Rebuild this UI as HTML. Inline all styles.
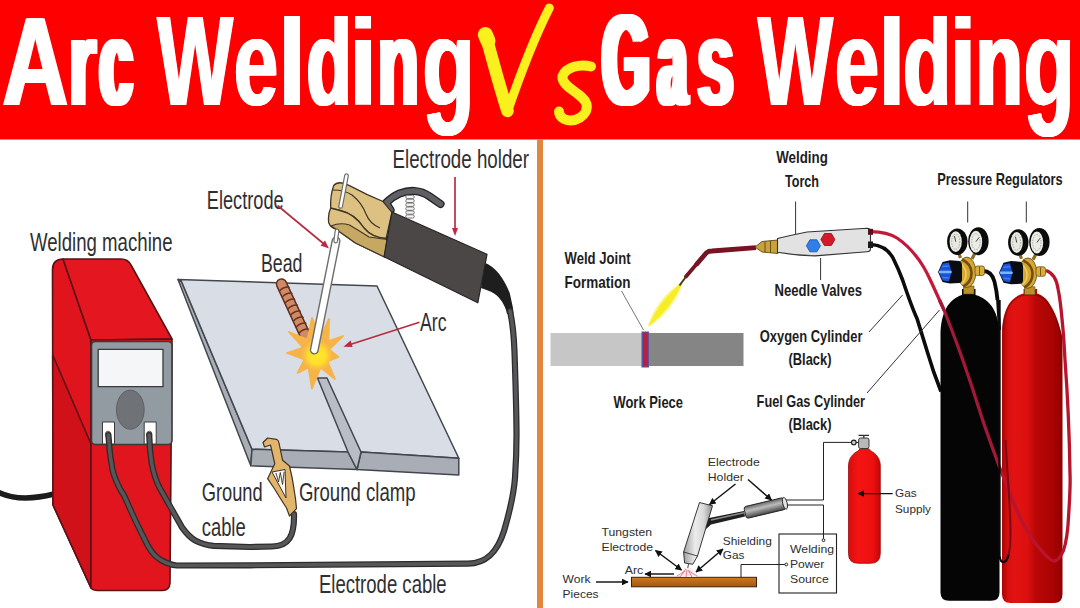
<!DOCTYPE html>
<html><head><meta charset="utf-8"><title>Arc Welding Vs Gas Welding</title>
<style>
html,body{margin:0;padding:0;background:#fff;}
body{width:1080px;height:608px;overflow:hidden;font-family:"Liberation Sans",sans-serif;}
svg{display:block;}
svg text{font-family:"Liberation Sans",sans-serif;}
</style></head><body>
<svg width="1080" height="608" viewBox="0 0 1080 608">
<defs>
  <linearGradient id="gRedCyl" x1="0" x2="1" y1="0" y2="0">
    <stop offset="0" stop-color="#a80404"/><stop offset="0.1" stop-color="#d90f0f"/><stop offset="0.2" stop-color="#e21212"/><stop offset="0.42" stop-color="#dc1010"/>
    <stop offset="0.56" stop-color="#b80707"/><stop offset="0.85" stop-color="#aa0303"/><stop offset="1" stop-color="#8e0000"/>
  </linearGradient>
  <linearGradient id="gTig" x1="0" x2="1" y1="0" y2="0">
    <stop offset="0" stop-color="#a0a0a0"/><stop offset="0.4" stop-color="#ececec"/><stop offset="0.7" stop-color="#d8d8d8"/><stop offset="1" stop-color="#8c8c8c"/>
  </linearGradient>
  <linearGradient id="gHandle" x1="0" x2="0" y1="0" y2="1">
    <stop offset="0" stop-color="#666"/><stop offset="0.4" stop-color="#bdbdbd"/><stop offset="1" stop-color="#444"/>
  </linearGradient>
  <linearGradient id="gSmallCyl" x1="0" x2="1" y1="0" y2="0">
    <stop offset="0" stop-color="#d80c0c"/><stop offset="0.3" stop-color="#f41414"/><stop offset="0.75" stop-color="#ee1010"/><stop offset="1" stop-color="#c00808"/>
  </linearGradient>
  <linearGradient id="gBar" x1="0" x2="0" y1="0" y2="1"><stop offset="0" stop-color="#cc7a22"/><stop offset="1" stop-color="#a4560e"/></linearGradient>
  <radialGradient id="gSpark" cx="0.5" cy="0.5" r="0.5">
    <stop offset="0" stop-color="#ffe726"/><stop offset="0.55" stop-color="#ffde2c"/><stop offset="1" stop-color="#fcc838" stop-opacity="0"/>
  </radialGradient>
  <marker id="ah" viewBox="0 0 10 10" refX="9" refY="5" markerWidth="4.8" markerHeight="4.8" orient="auto-start-reverse">
    <path d="M0,0 L10,5 L0,10 z" fill="#111"/>
  </marker>
</defs>

<!-- background -->
<rect x="0" y="0" width="1080" height="608" fill="#ffffff"/>
<rect x="0" y="0" width="1080" height="139.5" fill="#fe0000"/>
<rect x="537" y="139.5" width="6" height="470" fill="#e0873f"/>

<g font-family="Liberation Sans, sans-serif" font-weight="bold" font-size="122.0" fill="#fff"><clipPath id="clipTop"><rect x="0" y="0" width="1080" height="105"/></clipPath><clipPath id="clipBot"><rect x="0" y="105" width="1080" height="40"/></clipPath><text transform="translate(0.63,105.0) scale(0.7473,1.03)" x="0" y="0">A</text><text transform="translate(1.48,105.0) scale(0.7473,1.03)" x="0" y="0">A</text><text transform="translate(2.34,105.0) scale(0.7473,1.03)" x="0" y="0">A</text><text transform="translate(3.19,105.0) scale(0.7473,1.03)" x="0" y="0">A</text><text transform="translate(4.05,105.0) scale(0.7473,1.03)" x="0" y="0">A</text><text transform="translate(66.34,105.0) scale(0.5786,1.0)" x="0" y="0">r</text><text transform="translate(67.53,105.0) scale(0.5786,1.0)" x="0" y="0">r</text><text transform="translate(68.72,105.0) scale(0.5786,1.0)" x="0" y="0">r</text><text transform="translate(69.91,105.0) scale(0.5786,1.0)" x="0" y="0">r</text><text transform="translate(71.10,105.0) scale(0.5786,1.0)" x="0" y="0">r</text><text transform="translate(96.14,105.0) scale(0.4829,1.0)" x="0" y="0">c</text><text transform="translate(97.86,105.0) scale(0.4829,1.0)" x="0" y="0">c</text><text transform="translate(99.58,105.0) scale(0.4829,1.0)" x="0" y="0">c</text><text transform="translate(101.30,105.0) scale(0.4829,1.0)" x="0" y="0">c</text><text transform="translate(103.01,105.0) scale(0.4829,1.0)" x="0" y="0">c</text><text transform="translate(156.34,105.0) scale(0.6592,1.055)" x="0" y="0">W</text><text transform="translate(156.81,105.0) scale(0.6592,1.055)" x="0" y="0">W</text><text transform="translate(157.29,105.0) scale(0.6592,1.055)" x="0" y="0">W</text><text transform="translate(157.77,105.0) scale(0.6592,1.055)" x="0" y="0">W</text><text transform="translate(158.24,105.0) scale(0.6592,1.055)" x="0" y="0">W</text><text transform="translate(232.80,105.0) scale(0.6553,1.0)" x="0" y="0">e</text><text transform="translate(233.29,105.0) scale(0.6553,1.0)" x="0" y="0">e</text><text transform="translate(233.79,105.0) scale(0.6553,1.0)" x="0" y="0">e</text><text transform="translate(234.28,105.0) scale(0.6553,1.0)" x="0" y="0">e</text><text transform="translate(234.77,105.0) scale(0.6553,1.0)" x="0" y="0">e</text><text transform="translate(275.88,105.0) scale(0.9503,1.0)" x="0" y="0">l</text><text transform="translate(304.94,105.0) scale(0.5967,1.0)" x="0" y="0">d</text><text transform="translate(305.81,105.0) scale(0.5967,1.0)" x="0" y="0">d</text><text transform="translate(306.67,105.0) scale(0.5967,1.0)" x="0" y="0">d</text><text transform="translate(307.53,105.0) scale(0.5967,1.0)" x="0" y="0">d</text><text transform="translate(308.40,105.0) scale(0.5967,1.0)" x="0" y="0">d</text><text transform="translate(346.88,105.0) scale(0.9503,1.0)" x="0" y="0">i</text><text transform="translate(375.59,105.0) scale(0.5480,1.0)" x="0" y="0">n</text><text transform="translate(376.78,105.0) scale(0.5480,1.0)" x="0" y="0">n</text><text transform="translate(377.97,105.0) scale(0.5480,1.0)" x="0" y="0">n</text><text transform="translate(379.17,105.0) scale(0.5480,1.0)" x="0" y="0">n</text><text transform="translate(380.36,105.0) scale(0.5480,1.0)" x="0" y="0">n</text><g clip-path="url(#clipTop)"><text transform="translate(421.37,105.0) scale(0.7093,1.0)" x="0" y="0">g</text><text transform="translate(421.75,105.0) scale(0.7093,1.0)" x="0" y="0">g</text><text transform="translate(422.14,105.0) scale(0.7093,1.0)" x="0" y="0">g</text><text transform="translate(422.53,105.0) scale(0.7093,1.0)" x="0" y="0">g</text><text transform="translate(422.92,105.0) scale(0.7093,1.0)" x="0" y="0">g</text></g><g clip-path="url(#clipBot)"><text transform="translate(421.37,105.0) scale(0.7093,1.22)" x="0" y="0">g</text><text transform="translate(421.75,105.0) scale(0.7093,1.22)" x="0" y="0">g</text><text transform="translate(422.14,105.0) scale(0.7093,1.22)" x="0" y="0">g</text><text transform="translate(422.53,105.0) scale(0.7093,1.22)" x="0" y="0">g</text><text transform="translate(422.92,105.0) scale(0.7093,1.22)" x="0" y="0">g</text></g><text transform="translate(598.45,105.0) scale(0.4970,1.06)" x="0" y="0">G</text><text transform="translate(600.36,105.0) scale(0.4970,1.06)" x="0" y="0">G</text><text transform="translate(602.27,105.0) scale(0.4970,1.06)" x="0" y="0">G</text><text transform="translate(604.18,105.0) scale(0.4970,1.06)" x="0" y="0">G</text><text transform="translate(606.09,105.0) scale(0.4970,1.06)" x="0" y="0">G</text><text transform="translate(654.46,105.0) scale(0.4202,1.0)" x="0" y="0">a</text><text transform="translate(656.27,105.0) scale(0.4202,1.0)" x="0" y="0">a</text><text transform="translate(658.07,105.0) scale(0.4202,1.0)" x="0" y="0">a</text><text transform="translate(659.88,105.0) scale(0.4202,1.0)" x="0" y="0">a</text><text transform="translate(661.69,105.0) scale(0.4202,1.0)" x="0" y="0">a</text><text transform="translate(694.61,105.0) scale(0.5441,1.0)" x="0" y="0">s</text><text transform="translate(695.90,105.0) scale(0.5441,1.0)" x="0" y="0">s</text><text transform="translate(697.18,105.0) scale(0.5441,1.0)" x="0" y="0">s</text><text transform="translate(698.47,105.0) scale(0.5441,1.0)" x="0" y="0">s</text><text transform="translate(699.75,105.0) scale(0.5441,1.0)" x="0" y="0">s</text><text transform="translate(756.84,105.0) scale(0.6541,1.055)" x="0" y="0">W</text><text transform="translate(757.34,105.0) scale(0.6541,1.055)" x="0" y="0">W</text><text transform="translate(757.83,105.0) scale(0.6541,1.055)" x="0" y="0">W</text><text transform="translate(758.33,105.0) scale(0.6541,1.055)" x="0" y="0">W</text><text transform="translate(758.83,105.0) scale(0.6541,1.055)" x="0" y="0">W</text><text transform="translate(833.80,105.0) scale(0.6553,1.0)" x="0" y="0">e</text><text transform="translate(834.29,105.0) scale(0.6553,1.0)" x="0" y="0">e</text><text transform="translate(834.79,105.0) scale(0.6553,1.0)" x="0" y="0">e</text><text transform="translate(835.28,105.0) scale(0.6553,1.0)" x="0" y="0">e</text><text transform="translate(835.77,105.0) scale(0.6553,1.0)" x="0" y="0">e</text><text transform="translate(876.14,105.0) scale(0.9206,1.0)" x="0" y="0">l</text><text transform="translate(901.71,105.0) scale(0.6418,1.0)" x="0" y="0">d</text><text transform="translate(902.39,105.0) scale(0.6418,1.0)" x="0" y="0">d</text><text transform="translate(903.06,105.0) scale(0.6418,1.0)" x="0" y="0">d</text><text transform="translate(903.73,105.0) scale(0.6418,1.0)" x="0" y="0">d</text><text transform="translate(904.41,105.0) scale(0.6418,1.0)" x="0" y="0">d</text><text transform="translate(947.14,105.0) scale(0.9206,1.0)" x="0" y="0">i</text><text transform="translate(973.92,105.0) scale(0.6314,1.0)" x="0" y="0">n</text><text transform="translate(974.76,105.0) scale(0.6314,1.0)" x="0" y="0">n</text><text transform="translate(975.60,105.0) scale(0.6314,1.0)" x="0" y="0">n</text><text transform="translate(976.44,105.0) scale(0.6314,1.0)" x="0" y="0">n</text><text transform="translate(977.28,105.0) scale(0.6314,1.0)" x="0" y="0">n</text><g clip-path="url(#clipTop)"><text transform="translate(1022.48,105.0) scale(0.6868,1.0)" x="0" y="0">g</text><text transform="translate(1022.96,105.0) scale(0.6868,1.0)" x="0" y="0">g</text><text transform="translate(1023.45,105.0) scale(0.6868,1.0)" x="0" y="0">g</text><text transform="translate(1023.93,105.0) scale(0.6868,1.0)" x="0" y="0">g</text><text transform="translate(1024.42,105.0) scale(0.6868,1.0)" x="0" y="0">g</text></g><g clip-path="url(#clipBot)"><text transform="translate(1022.48,105.0) scale(0.6868,1.22)" x="0" y="0">g</text><text transform="translate(1022.96,105.0) scale(0.6868,1.22)" x="0" y="0">g</text><text transform="translate(1023.45,105.0) scale(0.6868,1.22)" x="0" y="0">g</text><text transform="translate(1023.93,105.0) scale(0.6868,1.22)" x="0" y="0">g</text><text transform="translate(1024.42,105.0) scale(0.6868,1.22)" x="0" y="0">g</text></g></g>

<!-- Vs -->
<g fill="none" stroke="#f9f11d" stroke-linecap="round" stroke-linejoin="round">
  <path d="M486,36 C492,58 500,88 507.5,111" stroke-width="12.5"/>
  <path d="M485.3,34.5 L488,41" stroke-width="15"/>
  <path d="M507.5,111.5 C519,78 533,40 549.3,8" stroke-width="9"/>
  <path d="M591,66.5 C580,63.5 566,67 562.5,76 C560.5,87 583,93 586.5,104 C589,116 574,123.5 564,119 C560.5,117 559,114 559,111.5" stroke-width="10"/>
</g>

<!-- ================= LEFT DIAGRAM ================= -->
<!-- power cord -->
<path d="M-2,492 C14,500 34,499 54,494" fill="none" stroke="#1c1c1c" stroke-width="5.5" stroke-linecap="round"/>

<!-- machine -->
<g stroke="#5a1216" stroke-width="1.6" stroke-linejoin="round">
  <!-- side face -->
  <path d="M52.5,270 Q52.5,259 63,259 L91,340 L91,588 L53,505 Z" fill="#df141d"/>
  <path d="M52.7,355 L91,444 L91,588 L53,505 Z" fill="#d01119"/>
  <!-- top face -->
  <path d="M63,259 L121,259 Q128,259 131,265 L172,339 L91,340 Z" fill="#e41720"/>
  <!-- front -->
  <path d="M91,340 L172,339 L170,583 Q169.5,590.5 162.5,590.5 L97,590.5 Q92,590 91,588 Z" fill="#e1151e"/>
  <!-- panel -->
  <rect x="91.5" y="341.5" width="80.5" height="103" fill="#929aa2" stroke="#3a3a3a" rx="4"/>
  <rect x="98.2" y="349.3" width="64.8" height="37.4" fill="#f4f6f7" stroke="#3a3a3a" stroke-width="1.3"/>
  <ellipse cx="130.3" cy="409.7" rx="13.9" ry="19.6" fill="#6f7377" stroke="#55595d" stroke-width="0.8"/>
  <rect x="102.5" y="422" width="12" height="22" fill="#fff" stroke="#3a3a3a" stroke-width="1"/>
  <rect x="144.2" y="422" width="12" height="22" fill="#fff" stroke="#3a3a3a" stroke-width="1"/>
  <ellipse cx="108" cy="434.5" rx="2.6" ry="3.4" fill="#d8b070" stroke="#444" stroke-width="0.8"/>
  <ellipse cx="149.3" cy="434.5" rx="2.6" ry="3.4" fill="#d8b070" stroke="#444" stroke-width="0.8"/>
</g>

<!-- plate -->
<g stroke="#42464d" stroke-width="1.5" stroke-linejoin="round">
  <path d="M178,279.5 L181.5,281.5 L252,449.3 L250.8,465.8 Z" fill="#a9adb5"/>
  <path d="M178,279.5 L377,286 L458.8,458.2 L361,452 L348,452 L252,449.3 L181.5,281.5 Z" fill="#d9dde6"/>
  <path d="M252,449.3 L348,452 L357,469.5 L250.8,465.8 Z" fill="#a9adb5"/>
  <path d="M361,452 L458.8,458.2 L458.8,475 L357,469.5 Z" fill="#a9adb5"/>
  <path d="M317.5,378 L327,378 L361,452 L357,469.5 L348,452 Z" fill="#b9bdc6"/>
</g>

<!-- bead -->
<g>
  <path d="M281.5,284 L305.5,336" stroke="#5e2e1c" stroke-width="11.5" stroke-linecap="round" fill="none"/>
  <path d="M281.5,284 L305.5,336" stroke="#d18a66" stroke-width="8.6" stroke-linecap="round" fill="none"/>
  <g stroke="#6a3220" stroke-width="1.5" fill="none" stroke-linecap="round">
    <path d="M279.5,291 q4.5,-4.5 9.5,-3.8"/><path d="M282.3,297 q4.5,-4.5 9.5,-3.8"/><path d="M285.1,303 q4.5,-4.5 9.5,-3.8"/>
    <path d="M287.9,309 q4.5,-4.5 9.5,-3.8"/><path d="M290.7,315 q4.5,-4.5 9.5,-3.8"/><path d="M293.5,321 q4.5,-4.5 9.5,-3.8"/>
    <path d="M296.3,327 q4.5,-4.5 9.5,-3.8"/><path d="M299.1,333 q4.5,-4.5 9.5,-3.8"/>
  </g>
</g>

<!-- spark -->
<path d="M312,318 L320.5,337 L329,319 L328.5,341 L343,336 L329,349.5 L338.5,357 L327.5,361.5 L335,379 L320.5,367.5 L312,388.5 L308.5,367.5 L297.6,373 L304.5,359.5 L287,353 L303,347.5 L289,332 L307.5,339.5 Z" fill="#f6b448" stroke="#f6b448" stroke-width="1.8" stroke-linejoin="round"/>
<circle cx="317" cy="355.5" r="16" fill="url(#gSpark)"/>

<!-- electrode rod -->
<path d="M336,241 L314.3,350" stroke="#6d6d6d" stroke-width="9" stroke-linecap="round" fill="none"/>
<path d="M336,241 L314.3,350" stroke="#ffffff" stroke-width="6.2" stroke-linecap="round" fill="none"/>

<!-- electrode holder -->
<g stroke-linejoin="round">
  <!-- lever -->
  <path d="M390.5,210 L386,203 C390,199 395,195.5 400,193.3 C405,191.4 410,190.8 414.5,191 C420,191.4 425.5,193.5 429.5,196.3 L440.5,204" fill="none" stroke="#242424" stroke-width="8.2" stroke-linecap="round"/>
  <path d="M390.5,210 L386,203 C390,199 395,195.5 400,193.3 C405,191.4 410,190.8 414.5,191 C420,191.4 425.5,193.5 429.5,196.3 L440.5,204" fill="none" stroke="#606064" stroke-width="5.6" stroke-linecap="round"/>
  <!-- upper jaw -->
  <path d="M333.7,185.5 Q337,181.5 344,183.3 L349.5,185.7 L367.3,194.6 L383,201.5 L392,212.3 L386,239 Q372,238 364,228 Q355,214 340,210.5 L330.7,208.5 Q330,196 333.7,185.5 Z" fill="#dcc183" stroke="#3d3424" stroke-width="1.3"/>
  <!-- lower jaw -->
  <path d="M330.7,208 Q327.5,215 328.8,223 Q331,228 335.7,229 L355.4,243 L384.5,257 L387.5,238.5 Q372,238 364,228 Q355,214 340,210.5 Z" fill="#dcc183" stroke="#3d3424" stroke-width="1.3"/>
  <path d="M331,226 Q340,222 349.5,225 Q358,230 369,237 L387,239.5 L384.5,257 L355.4,243 L335.7,229 Z" fill="#c7a862" stroke="#3d3424" stroke-width="1.1"/>
  <!-- inner lines -->
  <path d="M332.7,190 Q345,190 352,195 Q362,203 366,214 Q370,224 380,228" fill="none" stroke="#3d3424" stroke-width="1.2"/>
  <!-- cable from handle -->
  <path d="M484,262.5 C495,266 504.5,279 509.8,293.3 L513,308 L513.5,314 L507,314 L506,310 C503,302 499,296.5 494,293.5 C490,291 486,289.5 481,288 Z" fill="#1e1e1e"/>
  <!-- dark handle -->
  <path d="M392,212 L487,254.3 L477.8,302.8 L384,256.8 Z" fill="#4a4746" stroke="#262626" stroke-width="1.2"/>
</g>

<!-- spring -->
<g fill="#f4f4f4" stroke="#5a5a5a" stroke-width="0.8">
  <rect x="405.8" y="195.3" width="8.4" height="3.3" rx="1.5"/><rect x="405.8" y="199.2" width="8.4" height="3.3" rx="1.5"/>
  <rect x="405.8" y="203.1" width="8.4" height="3.3" rx="1.5"/><rect x="405.8" y="207" width="8.4" height="3.3" rx="1.5"/>
  <rect x="405.8" y="210.9" width="8.4" height="3.3" rx="1.5"/><rect x="405.8" y="214.8" width="8.4" height="3.3" rx="1.5"/>
</g>
<path d="M346.5,175.8 L340.6,206.4" stroke="#6d6d6d" stroke-width="4.8" stroke-linecap="round" fill="none"/>
<path d="M346.5,175.8 L340.6,206.4" stroke="#ffffff" stroke-width="2.4" stroke-linecap="round" fill="none"/>
<path d="M337,231 L335.7,241" stroke="#6d6d6d" stroke-width="4.8" stroke-linecap="round" fill="none"/>
<path d="M337,231 L335.7,241" stroke="#ffffff" stroke-width="2.4" stroke-linecap="round" fill="none"/>
<!-- cables -->
<g fill="none" stroke-linecap="round">
  <!-- electrode cable -->
  <path d="M108.4,435 C109,448 110.5,459 112.4,469.5 C115,480 119,488 124.2,495.8 L136,522 L147.9,545.8 C152,553 156,557.5 161,560 C166,563 171,565 176.8,565.5 L250,565.3 L468,563.6 C488,563.4 498,550 504,531 C509,514 513.5,497 515,478 C516.2,460 516.6,448 516.5,432 C516.3,405 515.3,375 514.5,352 C514,338 512.5,322 510,311" stroke="#2c2c2c" stroke-width="6.2"/>
  <path d="M108.4,435 C109,448 110.5,459 112.4,469.5 C115,480 119,488 124.2,495.8 L136,522 L147.9,545.8 C152,553 156,557.5 161,560 C166,563 171,565 176.8,565.5 L250,565.3 L468,563.6 C488,563.4 498,550 504,531 C509,514 513.5,497 515,478 C516.2,460 516.6,448 516.5,432 C516.3,405 515.3,375 514.5,352 C514,338 512.5,322 510,311" stroke="#57575a" stroke-width="3.6"/>
  <!-- ground cable -->
  <path d="M149.2,435 C149.5,446 150.5,456 151.8,464 C153.5,473 156,481 159.7,488 L171.6,509 L182,527.4 C186,533 190,537.5 195.3,540.5 C201,543.5 207,545.3 213.7,545.8 L250,547 L272,546.5 C289,546 294.5,536 294,514" stroke="#2c2c2c" stroke-width="6.2"/>
  <path d="M149.2,435 C149.5,446 150.5,456 151.8,464 C153.5,473 156,481 159.7,488 L171.6,509 L182,527.4 C186,533 190,537.5 195.3,540.5 C201,543.5 207,545.3 213.7,545.8 L250,547 L272,546.5 C289,546 294.5,536 294,514" stroke="#57575a" stroke-width="3.6"/>
</g>

<!-- ground clamp -->
<g stroke="#3d3424" stroke-width="1.2" stroke-linejoin="round">
  <path d="M263,442.5 L267.6,438 L276.5,439.3 Q278.5,440 279,443 L282.6,460.3 L289.5,466 Q292.5,478 294,489 Q296,500 296.5,508.7 L289.5,516 L286.5,508 Q280,498 274.6,489 L267.6,478.7 L272,469.5 L274.8,463.8 L270.5,445 L264.5,447 Z" fill="#e2b46c"/>
  <path d="M272,472 L285,469.5 L286,498 Z" fill="#fbf7ee" stroke-width="1"/>
  <path d="M276,473 l2.5,9 l1.8,-9.5 l2.2,12 l1.6,-12.5" fill="none" stroke="#333" stroke-width="0.9"/>
</g>

<!-- labels left -->
<g fill="#2f2f31" font-size="26">
  <text x="30" y="251" textLength="142.5" lengthAdjust="spacingAndGlyphs">Welding machine</text>
  <text x="206.8" y="208.6" textLength="76.8" lengthAdjust="spacingAndGlyphs">Electrode</text>
  <text x="261" y="271.5" textLength="41.5" lengthAdjust="spacingAndGlyphs">Bead</text>
  <text x="392.5" y="168.2" textLength="136.5" lengthAdjust="spacingAndGlyphs">Electrode holder</text>
  <text x="420" y="330.5" textLength="26.5" lengthAdjust="spacingAndGlyphs">Arc</text>
  <text x="201.7" y="501.4" textLength="61" lengthAdjust="spacingAndGlyphs">Ground</text>
  <text x="201.7" y="536.3" textLength="44" lengthAdjust="spacingAndGlyphs">cable</text>
  <text x="298.9" y="501.4" textLength="116.7" lengthAdjust="spacingAndGlyphs">Ground clamp</text>
  <text x="318.9" y="593.2" textLength="127.8" lengthAdjust="spacingAndGlyphs">Electrode cable</text>
</g>
<!-- red arrows -->
<g stroke="#b92c40" stroke-width="1.7" fill="#b92c40">
  <path d="M455,177 L455,230" fill="none"/><path d="M455,236 L452,228 L458,228 Z" stroke="none"/>
  <path d="M277.5,205.5 L324,244" fill="none"/><path d="M329,248.5 L320.5,245.5 L325,240.5 Z" stroke="none"/>
  <path d="M419.5,322.3 L351,344.3" fill="none"/><path d="M343.5,346.8 L350.6,340.6 L352.6,347 Z" stroke="none"/>
</g>

<!-- ================= RIGHT TOP DIAGRAM ================= -->
<!-- work piece -->
<rect x="550.5" y="333" width="92" height="33" fill="#c6c6c6"/>
<rect x="648" y="333" width="95.5" height="33" fill="#858585"/>
<rect x="641.5" y="331.5" width="7.5" height="36" fill="#5a55a0"/>
<rect x="643" y="332.5" width="4.8" height="34" fill="#b8203e"/>
<!-- leader -->
<path d="M621.5,291 L643.5,330" stroke="#777" stroke-width="1" fill="none"/>
<!-- flame -->
<path d="M682,282.5 Q673,311 648.5,326 Q657,299 682,282.5 Z" fill="#fbf68c" stroke="#fbf68c" stroke-width="1.4" stroke-linejoin="round"/>
<path d="M682,282.5 Q671,308.5 649,325.5 Q659.5,301.5 682,282.5 Z" fill="#f6ee22" stroke="#f6ee22" stroke-width="1" stroke-linejoin="round"/>
<!-- torch tube -->
<path d="M686,276.5 L706,253" fill="none" stroke="#771424" stroke-width="3.8" stroke-linecap="round"/>
<path d="M696,265 L706.5,252.8 Q708.5,251 712,251 L756,247.6" fill="none" stroke="#771424" stroke-width="4.8" stroke-linejoin="round"/>
<path d="M679.5,285.5 L686.5,276" stroke="#4a3a1c" stroke-width="2" fill="none"/>
<!-- brass fitting -->
<path d="M755,247 L762,241.5 L778,240 L778,253.5 L762,252 Z" fill="#c9a23c" stroke="#5e4a14" stroke-width="0.9"/>
<path d="M765,241 L765,252.5 M770.5,240.5 L770.5,253" stroke="#5e4a14" stroke-width="0.9"/>
<!-- hoses from torch -->
<path d="M871,231.6 C880,231.8 890,233.6 897,238 C908,245.5 917,256 923.6,267 C926.5,272 928.5,276 930.3,280 C935,290 939.5,300 944,310" fill="none" stroke="#c4183a" stroke-width="3.2"/>
<path d="M871,244.5 C880,245 888,249 893,258 C897,266 900,273 902.6,280 C908,296 913,310 917,318.5 C923,338 928,354 933.7,372 L941,391.5" fill="none" stroke="#0c0c0c" stroke-width="3.6"/>
<!-- torch body -->
<path d="M777.5,238.5 Q792,235 807,232 L867,228.2 Q870.5,228.2 870.5,231.5 L870.5,248.5 Q870.5,251.8 867,251.8 L815,255.9 Q796,255.5 777.5,252.3 Z" fill="#e2e2e2" stroke="#333" stroke-width="1.1"/>
<rect x="868" y="228.8" width="5" height="6" fill="#5a1018"/><rect x="868" y="241.5" width="5" height="6.5" fill="#1a1a1a"/>
<polygon points="820.4,245.8 816.9,251.8 809.9,251.8 806.4,245.8 809.9,239.8 816.9,239.8" fill="#2f7fe8" stroke="#1b4fa8" stroke-width="0.8"/>
<polygon points="834.9,239.5 831.4,245.5 824.4,245.5 820.9,239.5 824.4,233.5 831.4,233.5" fill="#d41a2a" stroke="#8a0f18" stroke-width="0.8"/>
<!-- leader lines -->
<g stroke="#333" stroke-width="1" fill="none">
  <path d="M795.6,201.5 L795.6,234"/><path d="M820.6,258 L820.6,280"/>
  <path d="M967.7,201.5 L967.7,222.5"/><path d="M1026.3,201.5 L1026.3,222.5"/>
  <path d="M902.6,295 L869,332"/><path d="M939.5,310 L867,393"/>
</g>

<!-- cylinders -->
<path d="M940.5,336 C940.5,312 949,299 962,295 L962,289 L975.5,289 L975.5,295 C990,299 999.5,312 999.5,336 L999.5,592.5 Q999.5,600.8 991,600.8 L949,600.8 Q940.5,600.8 940.5,592.5 Z" fill="#050505"/>
<path d="M1002,336 C1002,322 1004,312 1008.7,304.4 C1013,298 1018,295 1023.5,293.5 L1023.5,289 L1037,289 L1037,293.5 C1043,295.5 1047,299 1050,304.4 C1055,312 1059,322 1062.5,338 L1062.5,594 Q1062.5,603 1054,603 L1010.5,603 Q1002,603 1002,594 Z" fill="url(#gRedCyl)"/>
<path d="M1003,330 C1003.5,320 1005.5,312 1009.5,305 C1013.5,299 1018,296.5 1023.5,295 L1037,295 C1042.5,296.5 1046,300 1049,305 C1054,313 1058,323 1061.5,337" fill="none" stroke="#7a0505" stroke-width="1.5" opacity="0.6"/>
<!-- hoses on top of cylinders -->
<path d="M939.5,300 C941,303.5 942.5,306.7 944,310 C950,325 956,341 961.4,356 C968.5,376 975.5,397 982,418 C988,436 994,452 999,466" fill="none" stroke="#a21838" stroke-width="3.3"/>
<path d="M999,466 C1003,476 1006,484 1009.5,492.7 C1014,504 1019,516 1025,527 C1031,538 1037,546 1043.7,553 C1048,558 1051,561 1054.5,561 C1058,560.5 1061,556 1063.4,550.6 C1066.5,542 1068,530 1068.7,514 C1070,494 1070.5,484 1070,474 C1069.5,440 1068,400 1065,360 C1064,340 1063,328 1062,319 C1061,308 1060,298 1058.2,289.6 C1057,281 1054.5,273.3 1046,270.5" fill="none" stroke="#b8142e" stroke-width="3.3"/>
<path d="M1005.5,440 C1007,470 1010,500 1010.5,530 C1010.5,546 1009.5,554 1007.5,558" fill="none" stroke="#7c0a16" stroke-width="2"/>
<path d="M999.5,300 L999.5,556 C1000,561 1002,562.5 1004,562 C1006,561.5 1007.5,559 1008.5,555" fill="none" stroke="#0a0a0a" stroke-width="2.4"/>
<path d="M997.5,298 L999.5,330" fill="none" stroke="#0a0a0a" stroke-width="3"/>

<!-- regulators -->
<path d="M983,271 C990,271 993,276 994.5,281.8 C996,288 997,294 997.5,300" fill="none" stroke="#0a0a0a" stroke-width="3.8"/>
<g id="reg">
  <rect x="963.5" y="286" width="10.5" height="8" fill="#b8902c" stroke="#5e4510" stroke-width="0.6"/>
  <path d="M958,251 L960.5,258 M975.5,252 L972,259" stroke="#8a6a20" stroke-width="3.2" fill="none"/>
  <ellipse cx="966.8" cy="272.3" rx="9" ry="15.2" fill="#d5a630" stroke="#5e4510" stroke-width="0.8"/>
  <path d="M962,259.5 Q971.5,264 971.5,273 Q971.5,282 963.5,286.5" fill="none" stroke="#6e4c12" stroke-width="2.6"/>
  <path d="M960.5,263 Q966,268 966,274 Q966,280 961.5,284" fill="none" stroke="#f0cc60" stroke-width="1.6"/>
  <rect x="975" y="266" width="9.5" height="9.5" rx="2.2" fill="#d9ad3a" stroke="#5e4510" stroke-width="0.7"/>
  <path d="M979.5,266.5 L979.5,275" stroke="#7a5a16" stroke-width="1"/>
  <path d="M938,272 L942.5,262 L950,260.3 L959.5,261 Q962,262 962,265 L962,279 Q962,282.5 959.5,283 L950,283.5 L942.5,282 Z" fill="#0a0c14"/>
  <path d="M938.6,272 L942.8,263.5 L949,262.5 L951.5,272 L949,281.5 L942.8,280.5 Z" fill="#1c52d6"/>
  <path d="M940,272 L950.5,272" stroke="#7ab6ff" stroke-width="2.6" stroke-linecap="round"/>
  <path d="M943,266.5 L948.5,266 M943,277.5 L948.5,278" stroke="#3f7ff0" stroke-width="1.6" stroke-linecap="round"/>
  <ellipse cx="957.3" cy="241.7" rx="10.2" ry="13.3" fill="#0b0b0b"/>
  <ellipse cx="955.7" cy="241.7" rx="6.1" ry="10.4" fill="#e9e9e2"/>
  <ellipse cx="955.7" cy="241.7" rx="4" ry="7.6" fill="none" stroke="#8c9690" stroke-width="0.8" stroke-dasharray="1.4 1.2"/>
  <path d="M955.7,241.7 L954.5,236" stroke="#333" stroke-width="0.9"/>
  <ellipse cx="978.4" cy="241.2" rx="10.2" ry="14" fill="#0b0b0b"/>
  <ellipse cx="975.9" cy="241.7" rx="6.3" ry="11" fill="#ecece6"/>
  <ellipse cx="975.9" cy="241.7" rx="4.2" ry="8" fill="none" stroke="#8c9690" stroke-width="0.8" stroke-dasharray="1.4 1.2"/>
  <path d="M975.9,241.7 L979,237.5" stroke="#333" stroke-width="0.9"/>
</g>
<use href="#reg" x="61" y="0.8"/>

<!-- labels right top (Calibri-like bold) -->
<g fill="#1d1d1d" font-weight="bold" font-size="16.6">
  <text x="776.2" y="163" textLength="51.6" lengthAdjust="spacingAndGlyphs">Welding</text>
  <text x="785" y="186.8" textLength="34" lengthAdjust="spacingAndGlyphs">Torch</text>
  <text x="937.2" y="185.4" textLength="125.5" lengthAdjust="spacingAndGlyphs">Pressure Regulators</text>
  <text x="564.5" y="263.8" textLength="66" lengthAdjust="spacingAndGlyphs">Weld Joint</text>
  <text x="564.5" y="287.8" textLength="66" lengthAdjust="spacingAndGlyphs">Formation</text>
  <text x="774.5" y="296" textLength="87.5" lengthAdjust="spacingAndGlyphs">Needle Valves</text>
  <text x="759.7" y="342" textLength="102.8" lengthAdjust="spacingAndGlyphs">Oxygen Cylinder</text>
  <text x="788.5" y="365.4" textLength="43" lengthAdjust="spacingAndGlyphs">(Black)</text>
  <text x="756.6" y="406.5" textLength="108.4" lengthAdjust="spacingAndGlyphs">Fuel Gas Cylinder</text>
  <text x="788.5" y="430" textLength="43" lengthAdjust="spacingAndGlyphs">(Black)</text>
  <text x="613.5" y="408" textLength="69.5" lengthAdjust="spacingAndGlyphs">Work Piece</text>
</g>

<!-- ================= TIG DIAGRAM ================= -->
<!-- work pieces bar -->
<rect x="631.5" y="577.3" width="125" height="9.5" fill="url(#gBar)" stroke="#3a2208" stroke-width="1"/>
<!-- power box -->
<rect x="779" y="534" width="57.5" height="59" fill="#fff" stroke="#222" stroke-width="1.1"/>
<!-- wires -->
<g fill="none" stroke="#222" stroke-width="1">
  <path d="M786,500 L823.5,500 L823.5,442.4 L851.5,442.4"/>
  <path d="M786,505 L823.5,505 L823.5,539"/>
  <path d="M741,577.5 L741,564.5 L785,564.5"/>
  <circle cx="823.5" cy="540.2" r="1.4" fill="#fff"/>
  <circle cx="786.3" cy="564.5" r="1.4" fill="#fff"/>
</g>
<!-- arm -->
<path d="M706,511 L709,518 L744,511 L745,516.5 L711,524.5 L706,529 Z" fill="#1f1f1f"/>
<path d="M711,520 L744,512.8" stroke="#8a8a8a" stroke-width="1.6" fill="none"/>
<!-- handle cylinder -->
<g transform="rotate(-13.4 765 508)">
  <rect x="744.5" y="502" width="41" height="12" rx="2.5" fill="url(#gHandle)" stroke="#222" stroke-width="0.9"/>
  <ellipse cx="785.5" cy="508" rx="2.2" ry="6" fill="#e4e4e4" stroke="#222" stroke-width="0.9"/>
</g>
<!-- torch body -->
<path d="M699.5,502.5 L712.5,505.8 L697.5,556 L692.8,564.3 L684.6,563 L683.6,552 Z" fill="url(#gTig)" stroke="#222" stroke-width="0.9" stroke-linejoin="round"/>
<path d="M683.6,552 L697.5,556" stroke="#222" stroke-width="0.8"/>
<path d="M688.5,564 L687,572" stroke="#444" stroke-width="1"/>
<!-- arc sparks -->
<path d="M680,577 L684,568 L691,568 L696,577 Z" fill="#fbe9ec"/>
<g stroke="#d85070" stroke-width="0.7" fill="none">
  <path d="M686,569 L680,577 M687,570 L686,577 M688,570 L692,577 M685,571 L677,576 M689,571 L697,576"/>
</g>
<!-- small cylinder -->
<path d="M848.5,466 C848.5,458 853,453.5 858,451 L860.5,448.5 L868.3,448.5 L870.8,451 C875.8,453.5 880.3,458 880.3,466 L880.3,553.5 Q880.3,563.3 870.5,563.3 L858.3,563.3 Q848.5,563.3 848.5,553.5 Z" fill="url(#gSmallCyl)" stroke="#9a0a0a" stroke-width="0.8"/>
<rect x="858.6" y="438" width="10.4" height="10.6" rx="2" fill="#b9b9b9" stroke="#2a2a2a" stroke-width="0.9"/>
<path d="M858.5,435.3 L869,435.3 M863.8,435.3 L863.8,438" stroke="#2a2a2a" stroke-width="1.3" fill="none"/>
<circle cx="853.8" cy="442.4" r="2.3" fill="#d0d0d0" stroke="#1a1a1a" stroke-width="1.1"/>
<path d="M856,442.4 L858.6,442.4" stroke="#1a1a1a" stroke-width="1"/>
<!-- black arrows -->
<g stroke="#111" stroke-width="1.45" fill="none">
  <path d="M596,582 L628,582" marker-end="url(#ah)"/>
  <path d="M674,574 L645,574" marker-end="url(#ah)"/>
  <path d="M655.5,550.5 L681.5,570" marker-start="url(#ah)" marker-end="url(#ah)"/>
  <path d="M723,549 L696,572" marker-start="url(#ah)" marker-end="url(#ah)"/>
  <path d="M735.5,484 L709.5,504.5" marker-end="url(#ah)"/>
  <path d="M748,479.5 L771.5,500" marker-end="url(#ah)"/>
  <path d="M892.7,493.6 L858,493.6" marker-end="url(#ah)"/>
</g>
<!-- labels TIG -->
<g fill="#2e2e2e" font-size="11.2">
  <text x="707.8" y="466" textLength="52" lengthAdjust="spacingAndGlyphs">Electrode</text>
  <text x="707.8" y="480.6" textLength="36" lengthAdjust="spacingAndGlyphs">Holder</text>
  <text x="601.5" y="536" textLength="50.5" lengthAdjust="spacingAndGlyphs">Tungsten</text>
  <text x="601.5" y="550.8" textLength="51.5" lengthAdjust="spacingAndGlyphs">Electrode</text>
  <text x="624.7" y="573.5" textLength="18.5" lengthAdjust="spacingAndGlyphs">Arc</text>
  <text x="562.6" y="583" textLength="28" lengthAdjust="spacingAndGlyphs">Work</text>
  <text x="562.6" y="597.8" textLength="36" lengthAdjust="spacingAndGlyphs">Pieces</text>
  <text x="722.8" y="544.6" textLength="49" lengthAdjust="spacingAndGlyphs">Shielding</text>
  <text x="722.8" y="558.9" textLength="21.7" lengthAdjust="spacingAndGlyphs">Gas</text>
  <text x="790" y="553" textLength="44" lengthAdjust="spacingAndGlyphs">Welding</text>
  <text x="790" y="568" textLength="34.4" lengthAdjust="spacingAndGlyphs">Power</text>
  <text x="790" y="583" textLength="38.8" lengthAdjust="spacingAndGlyphs">Source</text>
  <text x="895" y="497.3" textLength="21.6" lengthAdjust="spacingAndGlyphs">Gas</text>
  <text x="895" y="512.5" textLength="36" lengthAdjust="spacingAndGlyphs">Supply</text>
</g>

</svg>
</body></html>
